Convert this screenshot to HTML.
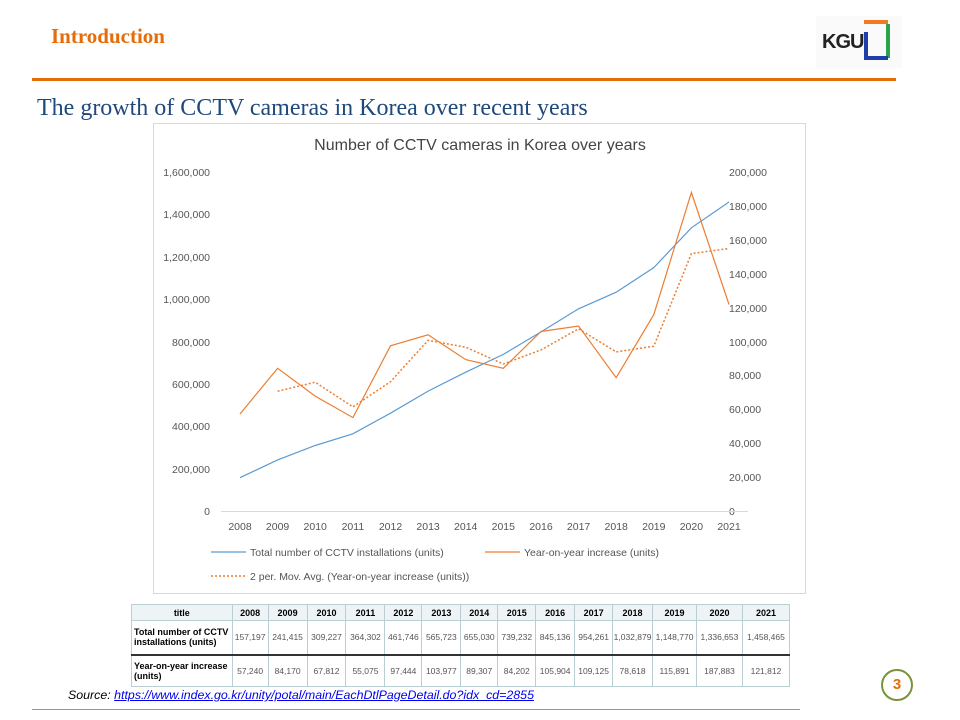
<!DOCTYPE html>
<html><head><meta charset="utf-8"><style>
body{margin:0;width:960px;height:720px;background:#fff;position:relative;overflow:hidden;font-family:"Liberation Sans",sans-serif}
.abs{position:absolute}
table{border-collapse:collapse;position:absolute;left:131px;top:604px;width:659px;font-family:"Liberation Sans","NanumGothic",sans-serif;font-size:8.5px}
td{border:1px solid #b9cfd3;text-align:center;color:#555;padding:0}
tr.h td{background:#eef4f5;color:#000;font-weight:bold;height:15px;font-size:9px}
td.t{text-align:left;color:#000;font-weight:bold;padding-left:2px;line-height:10px;font-size:9px}
</style></head><body>
<div class="abs" style="left:51px;top:24px;font-family:'Liberation Serif',serif;font-weight:bold;font-size:21px;color:#e46c0a">Introduction</div>
<div class="abs" style="left:816px;top:16px;width:86px;height:52px;background:#fafafa"></div>
<div class="abs" style="left:822px;top:31px;font-weight:bold;font-size:20px;color:#222;letter-spacing:-1px">KGU</div>
<svg class="abs" style="left:862px;top:20px" width="30" height="42"><polyline points="2,2 26,2" stroke="#f07a20" stroke-width="4" fill="none"/><polyline points="26,4 26,38" stroke="#2aa34a" stroke-width="4"/><polyline points="2,38 26,38" stroke="#1f3fa8" stroke-width="4"/><polyline points="4,12 4,38" stroke="#1f3fa8" stroke-width="4"/></svg>
<div class="abs" style="left:32px;top:78px;width:864px;height:3px;background:#e46c0a"></div>
<div class="abs" style="left:37px;top:95px;font-family:'Liberation Serif',serif;font-size:24px;color:#1f497d">The growth of CCTV cameras in Korea over recent years</div>
<svg class="abs" style="left:0;top:0" width="960" height="720" font-family="Liberation Sans, sans-serif" font-size="10.5" fill="#555">
<rect x="153.5" y="123.5" width="652" height="470" fill="#fff" stroke="#d9d9d9"/>
<text x="480" y="150" text-anchor="middle" font-size="16" fill="#444">Number of CCTV cameras in Korea over years</text>
<g text-anchor="end">
<text x="210" y="176">1,600,000</text><text x="210" y="218">1,400,000</text><text x="210" y="261">1,200,000</text><text x="210" y="303">1,000,000</text><text x="210" y="346">800,000</text><text x="210" y="388">600,000</text><text x="210" y="430">400,000</text><text x="210" y="473">200,000</text><text x="210" y="515">0</text>
</g>
<g text-anchor="start">
<text x="729" y="176">200,000</text><text x="729" y="210">180,000</text><text x="729" y="244">160,000</text><text x="729" y="278">140,000</text><text x="729" y="312">120,000</text><text x="729" y="346">100,000</text><text x="729" y="379">80,000</text><text x="729" y="413">60,000</text><text x="729" y="447">40,000</text><text x="729" y="481">20,000</text><text x="729" y="515">0</text>
</g>
<line x1="221" y1="511.5" x2="748" y2="511.5" stroke="#d9d9d9"/>
<g text-anchor="middle">
<text x="240" y="530">2008</text><text x="277.6" y="530">2009</text><text x="315.2" y="530">2010</text><text x="352.9" y="530">2011</text><text x="390.5" y="530">2012</text><text x="428.1" y="530">2013</text><text x="465.7" y="530">2014</text><text x="503.3" y="530">2015</text><text x="541" y="530">2016</text><text x="578.6" y="530">2017</text><text x="616.2" y="530">2018</text><text x="653.8" y="530">2019</text><text x="691.4" y="530">2020</text><text x="729" y="530">2021</text>
</g>
<polyline fill="none" stroke="#5b9bd5" stroke-width="1.2" points="240,477.7 277.6,459.9 315.2,445.5 352.9,433.8 390.5,413.2 428.1,391.1 465.7,372.2 503.3,354.4 541,331.9 578.6,308.8 616.2,292.2 653.8,267.6 691.4,227.8 729,202"/>
<polyline fill="none" stroke="#ed7d31" stroke-width="1.2" points="240,414 277.6,368.3 315.2,396.1 352.9,417.6 390.5,345.8 428.1,334.8 465.7,359.6 503.3,368.3 541,331.5 578.6,326 616.2,377.7 653.8,314.6 691.4,192.5 729,304.5"/>
<polyline fill="none" stroke="#ed7d31" stroke-width="1.5" stroke-dasharray="2,2" points="277.6,391.2 315.2,382.2 352.9,406.9 390.5,381.7 428.1,340.3 465.7,347.2 503.3,364 541,349.9 578.6,328.8 616.2,351.9 653.8,346.2 691.4,253.6 729,248.5"/>
<line x1="211" y1="552" x2="246" y2="552" stroke="#5b9bd5" stroke-width="1.2"/>
<text x="250" y="556">Total number of CCTV installations (units)</text>
<line x1="485" y1="552" x2="520" y2="552" stroke="#ed7d31" stroke-width="1.2"/>
<text x="524" y="556">Year-on-year increase (units)</text>
<line x1="211" y1="576" x2="246" y2="576" stroke="#ed7d31" stroke-width="1.5" stroke-dasharray="2,2"/>
<text x="250" y="580">2 per. Mov. Avg. (Year-on-year increase (units))</text>
</svg>
<table>
<colgroup><col style="width:101px"><col style="width:36px"><col style="width:39px"><col style="width:39px"><col style="width:39px"><col style="width:37px"><col style="width:39px"><col style="width:37px"><col style="width:38px"><col style="width:39px"><col style="width:38px"><col style="width:40px"><col style="width:44px"><col style="width:46px"><col style="width:47px"></colgroup>
<tr class="h"><td>title</td><td>2008</td><td>2009</td><td>2010</td><td>2011</td><td>2012</td><td>2013</td><td>2014</td><td>2015</td><td>2016</td><td>2017</td><td>2018</td><td>2019</td><td>2020</td><td>2021</td></tr>
<tr style="height:34px;border-bottom:2px solid #333"><td class="t">Total number of CCTV installations (units)</td><td>157,197</td><td>241,415</td><td>309,227</td><td>364,302</td><td>461,746</td><td>565,723</td><td>655,030</td><td>739,232</td><td>845,136</td><td>954,261</td><td>1,032,879</td><td>1,148,770</td><td>1,336,653</td><td>1,458,465</td></tr>
<tr style="height:32px"><td class="t">Year-on-year increase (units)</td><td>57,240</td><td>84,170</td><td>67,812</td><td>55,075</td><td>97,444</td><td>103,977</td><td>89,307</td><td>84,202</td><td>105,904</td><td>109,125</td><td>78,618</td><td>115,891</td><td>187,883</td><td>121,812</td></tr>
</table>
<div class="abs" style="left:68px;top:688px;font-size:12.4px;font-style:italic;color:#000;white-space:nowrap">Source: <span style="color:#0000ee;text-decoration:underline">https://www.index.go.kr/unity/potal/main/EachDtlPageDetail.do?idx_cd=2855</span></div>
<div class="abs" style="left:32px;top:709px;width:768px;height:1px;background:#7f9fbf"></div>
<div class="abs" style="left:881px;top:669px;width:32px;height:32px;border:2px solid #77933c;border-radius:50%;box-sizing:border-box;text-align:center;line-height:28px;font-weight:bold;font-size:15px;color:#e46c0a">3</div>
</body></html>
